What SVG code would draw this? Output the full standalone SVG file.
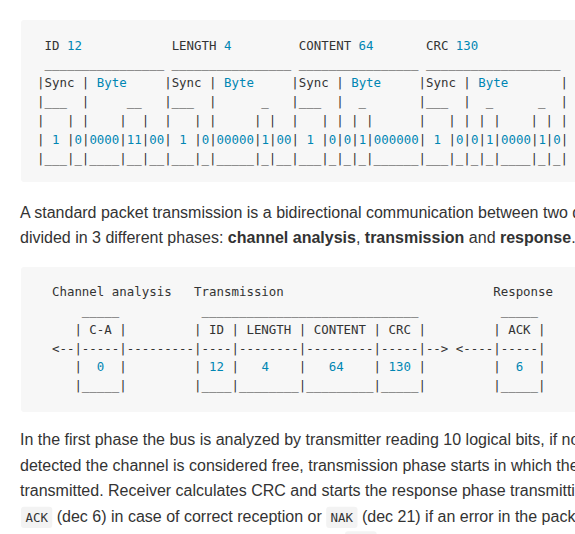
<svg xmlns="http://www.w3.org/2000/svg" width="575" height="534" viewBox="0 0 575 534">
<style>
text{white-space:pre}
.bg{fill:#f7f7f7}
.code{font-family:"DejaVu Sans Mono","Liberation Mono",monospace;font-size:12.43px;fill:#333}
.n{fill:#0086b3}
.p{font-family:"Liberation Sans",Arial,sans-serif;font-size:16px;fill:#333}
.b{font-weight:bold}
.ic{fill:#f3f3f3}
.icode{font-family:"DejaVu Sans Mono","Liberation Mono",monospace;font-size:12.43px;fill:#333}
</style>
<rect width="575" height="534" fill="#ffffff"/>
<g id="packet-frame-block">
<rect class="bg" x="21" y="20" width="600" height="162" rx="3"/>
<text class="code" xml:space="preserve" x="37" y="49.5"> ID <tspan class="n">12</tspan>            LENGTH <tspan class="n">4</tspan>         CONTENT <tspan class="n">64</tspan>       CRC <tspan class="n">130</tspan></text>
<text class="code" xml:space="preserve" x="37" y="68.35"> ________________ ________________ ________________ __________________</text>
<text class="code" xml:space="preserve" x="37" y="87.2">|Sync | <tspan class="n">Byte</tspan>     |Sync | <tspan class="n">Byte</tspan>     |Sync | <tspan class="n">Byte</tspan>     |Sync | <tspan class="n">Byte</tspan>       |</text>
<text class="code" xml:space="preserve" x="37" y="106.05">|___  |     __   |___  |      _   |___  |  _       |___  |  _      _  |</text>
<text class="code" xml:space="preserve" x="37" y="124.9">|   | |    |  |  |   | |     | |  |   | | | |      |   | | | |    | | |</text>
<text class="code" xml:space="preserve" x="37" y="143.75">| <tspan class="n">1</tspan> |<tspan class="n">0</tspan>|<tspan class="n">0000</tspan>|<tspan class="n">11</tspan>|<tspan class="n">00</tspan>| <tspan class="n">1</tspan> |<tspan class="n">0</tspan>|<tspan class="n">00000</tspan>|<tspan class="n">1</tspan>|<tspan class="n">00</tspan>| <tspan class="n">1</tspan> |<tspan class="n">0</tspan>|<tspan class="n">0</tspan>|<tspan class="n">1</tspan>|<tspan class="n">000000</tspan>| <tspan class="n">1</tspan> |<tspan class="n">0</tspan>|<tspan class="n">0</tspan>|<tspan class="n">1</tspan>|<tspan class="n">0000</tspan>|<tspan class="n">1</tspan>|<tspan class="n">0</tspan>|</text>
<text class="code" xml:space="preserve" x="37" y="162.6">|___|_|____|__|__|___|_|_____|_|__|___|_|_|_|______|___|_|_|_|____|_|_|</text>
</g>
<g id="paragraph-phases">
<text class="p" xml:space="preserve" x="20" y="218">A standard packet transmission is a bidirectional communication between two d</text>
<text class="p" xml:space="preserve" x="20" y="243">divided in 3 different phases: <tspan class="b">channel analysis</tspan>, <tspan class="b">transmission</tspan> and <tspan class="b">response</tspan>.</text>
</g>
<g id="phases-block">
<rect class="bg" x="21" y="267" width="600" height="145" rx="3"/>
<text class="code" xml:space="preserve" x="37" y="296">  Channel analysis   Transmission                            Response</text>
<text class="code" xml:space="preserve" x="37" y="314.85">      _____           _____________________________           _____</text>
<text class="code" xml:space="preserve" x="37" y="333.7">     | C-A |         | ID | LENGTH | CONTENT | CRC |         | ACK |</text>
<text class="code" xml:space="preserve" x="37" y="352.55">  &lt;--|-----|---------|----|--------|---------|-----|--&gt; &lt;----|-----|</text>
<text class="code" xml:space="preserve" x="37" y="371.4">     |  <tspan class="n">0</tspan>  |         | <tspan class="n">12</tspan> |   <tspan class="n">4</tspan>    |   <tspan class="n">64</tspan>    | <tspan class="n">130</tspan> |         |  <tspan class="n">6</tspan>  |</text>
<text class="code" xml:space="preserve" x="37" y="390.25">     |_____|         |____|________|_________|_____|         |_____|</text>
</g>
<g id="paragraph-procedure">
<text class="p" xml:space="preserve" x="20" y="445">In the first phase the bus is analyzed by transmitter reading 10 logical bits, if no</text>
<text class="p" xml:space="preserve" x="20" y="470.5">detected the channel is considered free, transmission phase starts in which the</text>
<text class="p" xml:space="preserve" x="20" y="496">transmitted. Receiver calculates CRC and starts the response phase transmittin</text>
<rect class="ic" x="21" y="506.7" width="31.3" height="21.3" rx="3"/>
<text class="icode" xml:space="preserve" x="25.5" y="521.8">ACK</text>
<text class="p" xml:space="preserve" x="52.3" y="521.8"> (dec 6) in case of correct reception or </text>
<rect class="ic" x="326.2" y="506.7" width="31.3" height="21.3" rx="3"/>
<text class="icode" xml:space="preserve" x="330.6" y="521.8">NAK</text>
<text class="p" xml:space="preserve" x="357.5" y="521.8"> (dec 21) if an error in the pack</text>
<rect class="ic" x="345" y="531.3" width="31.7" height="10" rx="3"/>
</g>
</svg>
